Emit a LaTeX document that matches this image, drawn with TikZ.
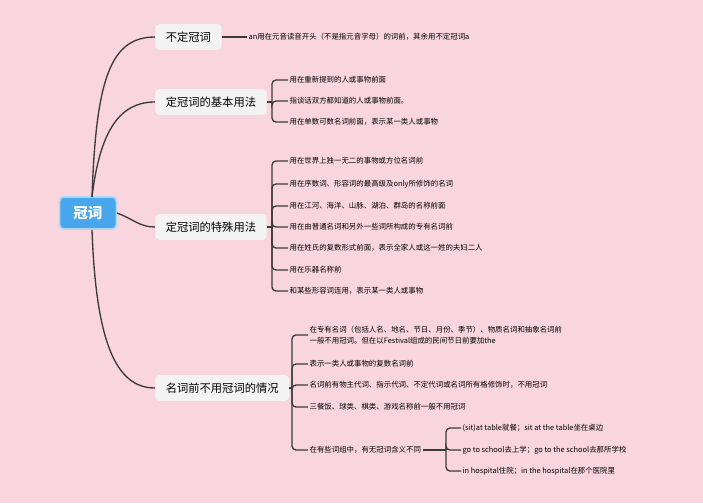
\documentclass[tikz,border=0pt]{standalone}
\usepackage{fontspec}
\setmainfont{Noto Sans CJK SC}
\usetikzlibrary{positioning}
\definecolor{bgpink}{HTML}{F9D6DE}
\definecolor{boxgray}{HTML}{F3F3F3}
\definecolor{rootblue}{HTML}{47A6EC}
\definecolor{linegray}{HTML}{3A3A3A}
\tikzstyle{branch} = [rectangle,rounded corners=3pt,fill=boxgray,minimum height=0.68cm,inner xsep=8pt,font=\fontsize{8.5}{10}\selectfont,text=black]
\tikzstyle{leaf} = [anchor=west,inner sep=1pt,font=\fontsize{5.6}{8}\selectfont,text=black,align=left]
\tikzstyle{link} = [line width=1pt,draw=linegray]
\tikzstyle{brace} = [line width=1pt,draw=linegray,rounded corners=3pt]
\begin{document}
\begin{tikzpicture}[x=0.0265cm,y=-0.0265cm]
\fill[bgpink] (0,0) rectangle (703,503);

% root and main branches
\node[rectangle,rounded corners=3pt,fill=rootblue,draw=rootblue!45,line width=1.2pt,minimum width=1.5cm,minimum height=0.85cm,font=\bfseries\fontsize{11}{13}\selectfont,text=white] (root) at (88,213) {冠词};
\node[branch,anchor=west] (indef) at (155,37) {不定冠词};
\node[branch,anchor=west] (basic) at (155,102) {定冠词的基本用法};
\node[branch,anchor=west] (special) at (155,227) {定冠词的特殊用法};
\node[branch,anchor=west] (noart) at (155,388) {名词前不用冠词的情况};

\draw[link] (92,197) .. controls (96,80) and (110,37) .. (indef.west);
\draw[link] (92,197) .. controls (100,130) and (120,102) .. (basic.west);
\draw[link] (root.east) .. controls (135,220) and (140,227) .. (special.west);
\draw[link] (92,230) .. controls (96,340) and (115,388) .. (noart.west);

% leaves
\node[leaf] (i1) at (247,37) {an用在元音读音开头（不是指元音字母）的词前，其余用不定冠词a};
\draw[link] (indef.east) -- (i1.west);

\node[leaf] (b1) at (288,80) {用在重新提到的人或事物前面};
\node[leaf] (b2) at (288,101) {指谈话双方都知道的人或事物前面。};
\node[leaf] (b3) at (288,122) {用在单数可数名词前面，表示某一类人或事物};
\draw[link] (basic.east) -- (272,102);
\foreach \n in {b1,b2,b3} \draw[brace] (272,102) |- (\n.west);

\node[leaf] (s1) at (288,161) {用在世界上独一无二的事物或方位名词前};
\node[leaf] (s2) at (288,184) {用在序数词、形容词的最高级及only所修饰的名词};
\node[leaf] (s3) at (288,206) {用在江河、海洋、山脉、湖泊、群岛的名称前面};
\node[leaf] (s4) at (288,227) {用在由普通名词和另外一些词所构成的专有名词前};
\node[leaf] (s5) at (288,248) {用在姓氏的复数形式前面，表示全家人或这一姓的夫妇二人};
\node[leaf] (s6) at (288,270) {用在乐器名称前};
\node[leaf] (s7) at (288,291) {和某些形容词连用，表示某一类人或事物};
\draw[link] (special.east) -- (272,227);
\foreach \n in {s1,s2,s3,s4,s5,s6,s7} \draw[brace] (272,227) |- (\n.west);

\node[leaf] (n1) at (308,335) {在专有名词（包括人名、地名、节日、月份、季节）、物质名词和抽象名词前\\一般不用冠词。但在以Festival组成的民间节日前要加the};
\node[leaf] (n2) at (308,364) {表示一类人或事物的复数名词前};
\node[leaf] (n3) at (308,385) {名词前有物主代词、指示代词、不定代词或名词所有格修饰时，不用冠词};
\node[leaf] (n4) at (308,407) {三餐饭、球类、棋类、游戏名称前一般不用冠词};
\node[leaf] (n5) at (308,450) {在有些词组中，有无冠词含义不同};
\draw[link] (noart.east) -- (292,388);
\foreach \n in {n2,n3,n4,n5} \draw[brace] (292,388) |- (\n.west);
\draw[brace] (292,388) |- (n1.west);

\node[leaf] (p1) at (461,428) {(sit)at table就餐；sit at the table坐在桌边};
\node[leaf] (p2) at (461,450) {go to school去上学；go to the school去那所学校};
\node[leaf] (p3) at (461,471) {in hospital住院；in the hospital在那个医院里};
\draw[link] (n5.east) -- (446,450);
\foreach \n in {p1,p2,p3} \draw[brace] (446,450) |- (\n.west);
\end{tikzpicture}
\end{document}
